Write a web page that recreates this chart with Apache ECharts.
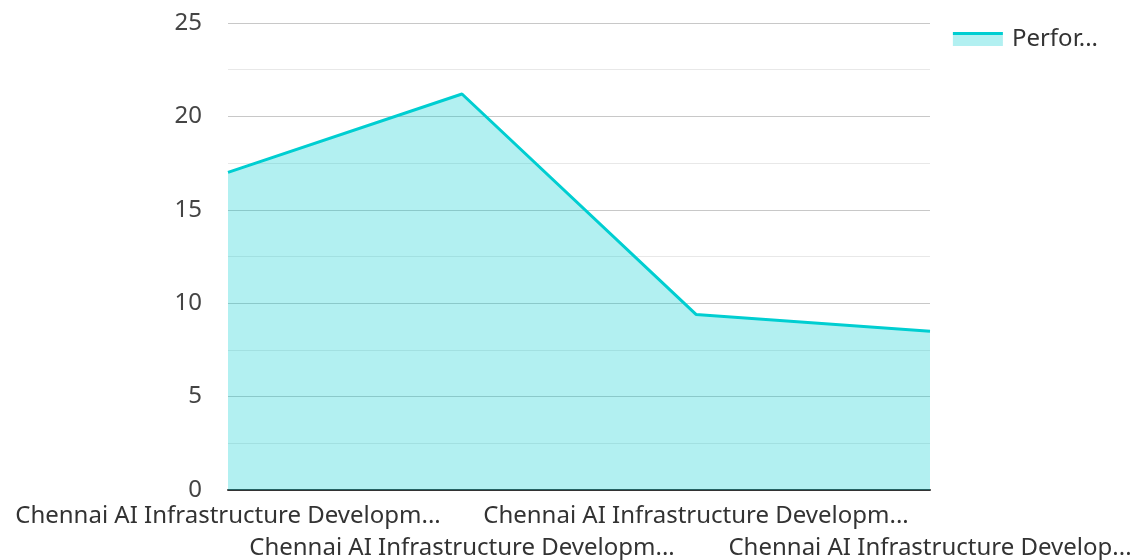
<!DOCTYPE html>
<html>
<head>
<meta charset="utf-8">
<script src="https://cdn.jsdelivr.net/npm/echarts@6/dist/echarts.min.js"></script>
<style>
  html, body { margin: 0; padding: 0; background: #fff; }
  #chart { width: 1139px; height: 560px; }
</style>
</head>
<body>
<div id="chart"></div>
<script>
// --- data ------------------------------------------------------------------
const categories = [
  "Chennai AI Infrastructure Developm...",
  "Chennai AI Infrastructure Developm...",
  "Chennai AI Infrastructure Developm...",
  "Chennai AI Infrastructure Develop...",
];
const seriesName = "Performance";
const values = [17.0, 21.2, 9.4, 8.5];

// --- look ------------------------------------------------------------------
const LINE = "#00CED1";
const FILL = "#b2f0f1";
const TEXT = "#333";
const FONT = "Noto Sans";

const chart = echarts.init(document.getElementById("chart"), null, { renderer: "canvas" });
chart.setOption({
  animation: false,
  textStyle: { fontFamily: FONT },
  grid: { left: 228, right: 209, top: 23, bottom: 70, outerBoundsMode: "none", containLabel: false },
  legend: {
    right: 36,
    top: 22,
    itemWidth: 50,
    itemHeight: 14,
    itemGap: 10,
    icon: "rect",
    itemStyle: {
      color: {
        type: "linear", x: 0, y: 0, x2: 0, y2: 1,
        colorStops: [
          { offset: 0, color: LINE }, { offset: 0.25, color: LINE },
          { offset: 0.25, color: FILL }, { offset: 1, color: FILL },
        ],
      },
      borderWidth: 0,
    },
    // legend name is clipped to a short stub, as in the reference
    formatter: (name) => (name.length > 6 ? name.slice(0, 6) + "..." : name),
    textStyle: { fontFamily: FONT, fontSize: 24, color: TEXT, padding: [0, 0, 0, 4] },
  },
  xAxis: {
    type: "category",
    data: categories,
    boundaryGap: false,
    axisLine: { lineStyle: { color: "#333", width: 2 } },
    axisTick: { show: false },
    axisLabel: {
      interval: 0,
      margin: 10,
      fontSize: 24,
      lineHeight: 32,
      color: TEXT,
      fontFamily: FONT,
      formatter: (v, i) => (i % 2 ? "\n" + v : v),
    },
    splitLine: { show: false },
  },
  yAxis: {
    type: "value",
    min: 0,
    max: 25,
    interval: 5,
    axisLine: { show: false },
    axisTick: { show: false },
    axisLabel: { margin: 26, fontSize: 24, color: "#444", fontFamily: FONT },
    splitLine: { lineStyle: { color: "#c8c8c8", width: 1 } },
    minorTick: { show: false, splitNumber: 2 },
    minorSplitLine: { show: true, lineStyle: { color: "#e8e8e8", width: 1 } },
  },
  series: [
    {
      name: seriesName,
      type: "line",
      data: values,
      symbol: "none",
      lineStyle: { color: LINE, width: 3 },
      itemStyle: { color: LINE },
      areaStyle: { color: LINE, opacity: 0.3 },
      z: 3,
    },
  ],
});
</script>
</body>
</html>
